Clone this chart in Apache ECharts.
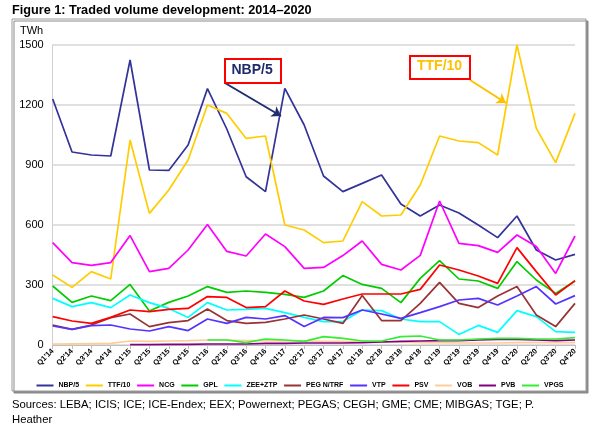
<!DOCTYPE html>
<html>
<head>
<meta charset="utf-8">
<script src="https://cdn.jsdelivr.net/npm/echarts@6/dist/echarts.min.js"></script>
<style>
  html, body { margin: 0; padding: 0; background: #fff; }
  #chart { width: 600px; height: 428px; }
</style>
</head>
<body>
<div id="chart"></div>
<script>
const quarters = ["Q1'14","Q2'14","Q3'14","Q4'14","Q1'15","Q2'15","Q3'15","Q4'15",
  "Q1'16","Q2'16","Q3'16","Q4'16","Q1'17","Q2'17","Q3'17","Q4'17",
  "Q1'18","Q2'18","Q3'18","Q4'18","Q1'19","Q2'19","Q3'19","Q4'19",
  "Q1'20","Q2'20","Q3'20","Q4'20"];

const nbp = [1230,965,950,945,1425,875,873,1000,1282,1080,841,767,1283,1100,845,767,808,850,705,645,700,660,600,537,645,475,425,453];
const ttf = [350,288,367,330,1025,658,775,925,1200,1158,1033,1045,600,575,512,520,717,645,650,800,1045,1020,1012,950,1500,1083,912,1158];
const ncg = [512,412,398,412,547,367,383,475,603,468,445,555,492,383,388,447,520,403,375,448,720,508,497,463,550,492,358,545];
const gpl = [295,213,245,222,303,170,213,245,292,263,270,263,253,238,270,347,303,283,212,333,422,330,320,283,417,325,258,320];
const zee = [233,192,212,187,250,212,183,138,212,175,178,183,162,138,117,117,175,172,130,117,117,53,98,63,172,142,67,63];
const peg = [100,78,100,137,155,92,112,122,180,122,108,113,130,150,130,108,247,122,122,208,313,208,187,245,292,150,92,208];
const vtp = [95,78,97,100,80,70,92,72,130,108,138,130,147,92,138,137,175,155,133,162,192,225,233,200,245,292,205,247];
const psv = [142,120,108,138,175,167,178,183,242,238,187,192,270,220,203,230,255,255,255,278,400,375,345,308,487,367,250,322];
const vob = [5,6,7,8,20,18,20,22,25,25,22,22,20,20,18,18,15,15,15,12,12,10,10,10,12,12,12,12];
const pvb = [null,null,null,null,2,2,3,3,5,5,5,8,8,10,10,10,12,15,18,20,22,22,25,28,28,25,22,25];
const vpgs = [null,null,null,null,null,null,null,null,25,25,12,30,25,18,42,33,20,20,42,45,25,25,30,33,33,30,30,37];

const seriesDefs = [
  ['NBP/5', nbp, '#333399'],
  ['TTF/10', ttf, '#FFCC00'],
  ['NCG', ncg, '#FF00FF'],
  ['GPL', gpl, '#00CC00'],
  ['ZEE+ZTP', zee, '#00FFFF'],
  ['PEG N/TRF', peg, '#993333'],
  ['VTP', vtp, '#5533FF'],
  ['PSV', psv, '#FF0000'],
  ['VOB', vob, '#FFCC99'],
  ['PVB', pvb, '#800080'],
  ['VPGS', vpgs, '#33EE33']
];

const chart = echarts.init(document.getElementById('chart'));

const series = seriesDefs.map(([name, data, color]) => ({
  name,
  type: 'line',
  data,
  symbol: 'none',
  lineStyle: { color, width: 1.7 },
  itemStyle: { color },
  animation: false
}));

// arrows for the two labels
series[0].markLine = {
  silent: true, animation: false,
  symbol: ['none', 'arrow'], symbolSize: 9,
  label: { show: false },
  lineStyle: { color: '#1F2F6E', width: 2, type: 'solid' },
  data: [[{ x: 225, y: 83 }, { x: 281, y: 116 }]]
};
series[1].markLine = {
  silent: true, animation: false,
  symbol: ['none', 'arrow'], symbolSize: 9,
  label: { show: false },
  lineStyle: { color: '#FFC000', width: 2, type: 'solid' },
  data: [[{ x: 470, y: 80 }, { x: 506, y: 103 }]]
};

chart.setOption({
  animation: false,
  textStyle: { fontFamily: 'Liberation Sans, Arial, sans-serif' },
  grid: { left: 52.7, right: 25, top: 45, bottom: 83 },
  legend: {
    top: 377,
    left: 'center',
    itemWidth: 17,
    itemHeight: 2,
    itemGap: 6.7,
    icon: 'rect',
    textStyle: { fontSize: 7, fontWeight: 'bold', color: '#000' },
    data: seriesDefs.map(d => d[0])
  },
  xAxis: {
    type: 'category',
    boundaryGap: false,
    data: quarters,
    axisLine: { lineStyle: { color: '#BFBFBF' } },
    axisTick: { show: true, length: 4, lineStyle: { color: '#BFBFBF' } },
    axisLabel: { interval: 0, rotate: 45, fontSize: 7.5, fontWeight: 'bold', color: '#000', margin: 5 }
  },
  yAxis: {
    type: 'value',
    min: 0, max: 1500, interval: 300,
    axisLine: { show: true, lineStyle: { color: '#D0D0D0' } },
    axisTick: { show: false },
    splitLine: { lineStyle: { color: '#D6D6D6', width: 1.5 } },
    axisLabel: { fontSize: 11, color: '#000', margin: 9, formatter: v => String(v) }
  },
  graphic: [
    { type: 'rect', z: -10, shape: { x: 12, y: 19, width: 574, height: 372 },
      style: { fill: '#fff', stroke: '#9A9A9A', lineWidth: 1,
        shadowColor: '#8A8A8A', shadowOffsetX: 2, shadowOffsetY: 2, shadowBlur: 0 } },
    { type: 'text', left: 12, top: 4,
      style: { text: 'Figure 1: Traded volume development: 2014\u20132020', font: 'bold 12.7px Liberation Sans, Arial', fill: '#000' } },
    { type: 'text', left: 20, top: 25,
      style: { text: 'TWh', font: '11px Liberation Sans, Arial', fill: '#000' } },
    { type: 'rect', z: 50, shape: { x: 225, y: 59, width: 56, height: 24 },
      style: { fill: '#fff', stroke: '#FF0000', lineWidth: 2 } },
    { type: 'text', z: 51, left: 231.5, top: 63,
      style: { text: 'NBP/5', font: 'bold 14px Liberation Sans, Arial', fill: '#1F2A6B' } },
    { type: 'rect', z: 50, shape: { x: 410, y: 56, width: 60, height: 23 },
      style: { fill: '#fff', stroke: '#FF0000', lineWidth: 2 } },
    { type: 'text', z: 51, left: 417, top: 59.5,
      style: { text: 'TTF/10', font: 'bold 14px Liberation Sans, Arial', fill: '#FFC000' } },
    { type: 'text', left: 12, top: 397,
      style: { text: 'Sources: LEBA; ICIS; ICE; ICE-Endex; EEX; Powernext; PEGAS; CEGH; GME; CME; MIBGAS; TGE; P.\nHeather',
        font: '11.3px Liberation Sans, Arial', fill: '#000', lineHeight: 15 } }
  ],
  series
});
</script>
</body>
</html>
